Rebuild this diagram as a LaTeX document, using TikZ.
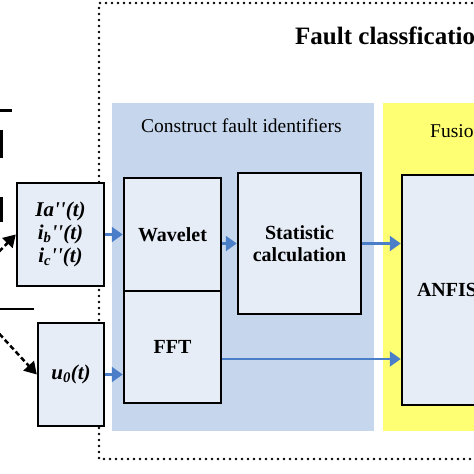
\documentclass[tikz,border=0pt]{standalone}
\usepackage{fontspec}
\setmainfont{Liberation Serif}
\usetikzlibrary{arrows.meta}
\definecolor{panelblue}{HTML}{C6D6EC}
\definecolor{boxfill}{HTML}{E7EDF7}
\definecolor{panelyellow}{HTML}{FFFF73}
\definecolor{arrowblue}{HTML}{4A7EC8}
\tikzset{
  blockbox/.style={draw=black, line width=2.5pt, fill=boxfill, align=center, inner sep=0pt,
    font=\fontsize{20}{22}\selectfont\bfseries},
  sigbox/.style={blockbox, font=\fontsize{21}{23}\selectfont\bfseries\itshape},
  barrow/.style={draw=arrowblue, line width=2.2pt, -{Triangle[length=11pt,width=15pt]}},
  darrow/.style={draw=black, line width=2.5pt, dash pattern=on 5pt off 3pt, -{Triangle[length=12pt,width=14pt]}},
  dotframe/.style={draw=black, line width=2.8pt, dash pattern=on 0pt off 6pt, line cap=round},
  panellabel/.style={font=\fontsize{19.5}{22}\selectfont, inner sep=0pt},
  stub/.style={draw=black, line width=3pt}
}
\newcommand{\pq}{\textquotesingle\textquotesingle}
\begin{document}
\begin{tikzpicture}[x=1pt,y=-1pt]
\useasboundingbox (0,0) rectangle (474,474);
\clip (0,0) rectangle (474,474);
\fill[white] (0,0) rectangle (474,474);
% dotted frame
\draw[dotframe] (520,3) -- (99,3) -- (99,459) -- (520,459);
% panels
\fill[panelblue] (112,103) rectangle (374,431);
\fill[panelyellow] (383,103) rectangle (530,431);
% labels
\node[font=\fontsize{25}{27}\selectfont\bfseries, inner sep=0pt, anchor=base west] (title) at (295,44) {Fault classfication};
\node[panellabel, anchor=base west] (cfi) at (141,132) {Construct fault identifiers};
\node[panellabel, anchor=base west] (fus) at (430,137) {Fusion};
% boxes
\node[sigbox, minimum width=87pt, minimum height=103pt] (sig) at (60.5,234.5)
  {Ia\pq(t)\\ i\textsubscript{b}\pq(t)\\ i\textsubscript{c}\pq(t)};
\node[sigbox, minimum width=66pt, minimum height=103pt] (u0) at (71,374.5)
  {u\textsubscript{0}(t)};
\node[blockbox, minimum width=97pt, minimum height=113pt] (wav) at (172.5,234.5) {Wavelet};
\node[blockbox, minimum width=97pt, minimum height=112pt] (fft) at (172.5,347) {FFT};
\node[blockbox, minimum width=123pt, minimum height=141pt] (stat) at (299.5,243.5) {Statistic\\calculation};
\node[blockbox, minimum width=90pt, minimum height=230pt] (anfis) at (447,290) {ANFIS};
% blue arrows
\draw[barrow] (sig.east) -- (wav.west);
\draw[barrow] (u0.east) -- (u0.east -| fft.west);
\draw[barrow] (wav.east |- stat.west) -- (stat.west);
\draw[barrow] (stat.east) -- (stat.east -| anfis.west);
\draw[barrow] ([yshift=-12pt]fft.east) -- ([yshift=-12pt]fft.east -| anfis.west);
% left partial shapes
\draw[stub] (0,110) -- (12,110);
\draw[stub] (1.5,130) -- (1.5,158);
\draw[stub] (1.5,197) -- (1.5,222);
\draw[draw=black, line width=2pt] (0,309) -- (34,309);
\coordinate (s1) at (-12,263);
\coordinate (s2) at (-6,328);
\draw[darrow] (s1) -- (sig.west);
\draw[darrow] (s2) -- (u0.west);
\end{tikzpicture}
\end{document}
